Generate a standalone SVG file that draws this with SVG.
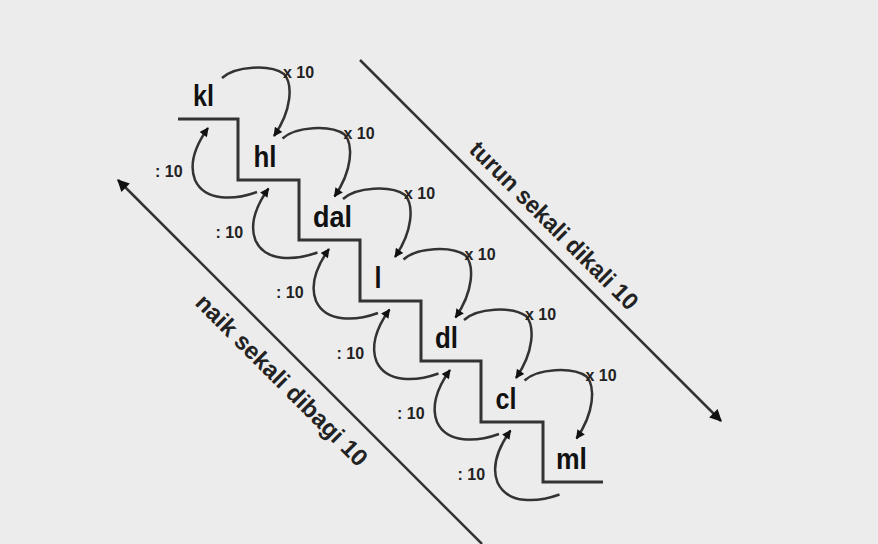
<svg xmlns="http://www.w3.org/2000/svg" width="878" height="544" viewBox="0 0 878 544">
<defs>
<style>
.lbl{font-family:"Liberation Sans",Arial,sans-serif;font-weight:bold;font-size:29px;fill:#111}
.op{font-family:"Liberation Sans",Arial,sans-serif;font-weight:bold;font-size:16px;fill:#222}
.diag{font-family:"Liberation Sans",Arial,sans-serif;font-weight:bold;font-size:24px;fill:#222}
.cv{fill:none;stroke:#333;stroke-width:2.5;marker-end:url(#ah)}
.big{fill:none;stroke:#333;stroke-width:2.5}
.stair{fill:none;stroke:#333;stroke-width:3}
</style>
<marker id="ah" viewBox="0 0 10 10" refX="9" refY="5" markerWidth="10" markerHeight="9" markerUnits="userSpaceOnUse" orient="auto">
<path d="M0,0 L10,5 L0,10 Z" fill="#111"/>
</marker>
<marker id="bh" viewBox="0 0 10 10" refX="9" refY="5" markerWidth="14" markerHeight="12" markerUnits="userSpaceOnUse" orient="auto">
<path d="M0,0 L10,5 L0,10 Z" fill="#111"/>
</marker>
<path id="mul" d="M222,78 C235,66 270,64 284,74 C293,84 292,110 274,136"/>
<path id="div" d="M257,192 C235,200 205,202 195,180 C188,162 198,142 208,128"/>
</defs>
<rect width="878" height="544" fill="#ececec"/>
<g id="stairs">
<path class="stair" d="M178,119 H238 V180 H299 V240 H360 V301 H421 V361 H481 V422 H543 V482 H603"/>
</g>
<g id="connectors">
<use href="#mul" class="cv"/>
<use href="#mul" class="cv" transform="translate(60.5,60.5)"/>
<use href="#mul" class="cv" transform="translate(121,121)"/>
<use href="#mul" class="cv" transform="translate(181.5,181.5)"/>
<use href="#mul" class="cv" transform="translate(242,242)"/>
<use href="#mul" class="cv" transform="translate(302.5,302.5)"/>
<use href="#div" class="cv"/>
<use href="#div" class="cv" transform="translate(60.5,60.5)"/>
<use href="#div" class="cv" transform="translate(121,121)"/>
<use href="#div" class="cv" transform="translate(181.5,181.5)"/>
<use href="#div" class="cv" transform="translate(242,242)"/>
<use href="#div" class="cv" transform="translate(302.5,302.5)"/>
<line class="big" x1="360" y1="60" x2="721" y2="421" marker-end="url(#bh)"/>
<line class="big" x1="482" y1="544" x2="118" y2="180" marker-end="url(#bh)"/>
</g>
<g id="op-labels">
<text class="op" x="283" y="78">x 10</text>
<text class="op" x="343.5" y="138.5">x 10</text>
<text class="op" x="404" y="199">x 10</text>
<text class="op" x="464.5" y="259.5">x 10</text>
<text class="op" x="525" y="320">x 10</text>
<text class="op" x="585.5" y="380.5">x 10</text>
<text class="op" x="155" y="177">: 10</text>
<text class="op" x="215.5" y="237.5">: 10</text>
<text class="op" x="276" y="298">: 10</text>
<text class="op" x="336.5" y="358.5">: 10</text>
<text class="op" x="397" y="419">: 10</text>
<text class="op" x="457.5" y="479.5">: 10</text>
</g>
<g id="kl"><text class="lbl" x="193" y="106" textLength="21" lengthAdjust="spacingAndGlyphs">kl</text></g>
<g id="hl"><text class="lbl" x="253.5" y="166.5" textLength="23" lengthAdjust="spacingAndGlyphs">hl</text></g>
<g id="dal"><text class="lbl" x="313" y="227" textLength="39" lengthAdjust="spacingAndGlyphs">dal</text></g>
<g id="l"><text class="lbl" x="374.5" y="287.5" textLength="7" lengthAdjust="spacingAndGlyphs">l</text></g>
<g id="dl"><text class="lbl" x="435" y="348" textLength="23" lengthAdjust="spacingAndGlyphs">dl</text></g>
<g id="cl"><text class="lbl" x="495.5" y="408.5" textLength="21" lengthAdjust="spacingAndGlyphs">cl</text></g>
<g id="ml"><text class="lbl" x="556" y="469" textLength="31" lengthAdjust="spacingAndGlyphs">ml</text></g>
<g id="turun">
<text class="diag" transform="translate(468,151) rotate(45)" x="0" y="0" textLength="227" lengthAdjust="spacingAndGlyphs">turun sekali dikali 10</text>
</g>
<g id="naik">
<text class="diag" transform="translate(194,304) rotate(45)" x="0" y="0" textLength="232" lengthAdjust="spacingAndGlyphs">naik sekali dibagi 10</text>
</g>
</svg>
